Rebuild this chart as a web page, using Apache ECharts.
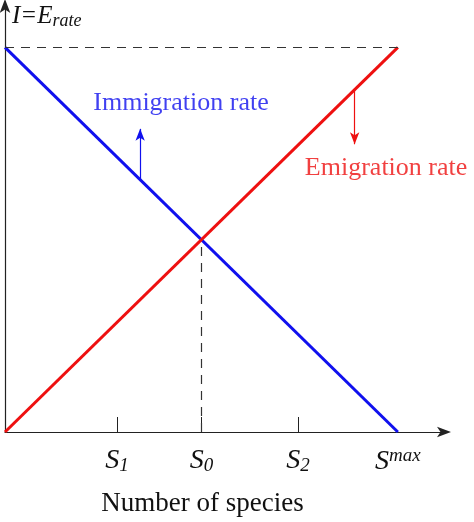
<!DOCTYPE html>
<html><head><meta charset="utf-8">
<script src="https://cdn.jsdelivr.net/npm/echarts@6/dist/echarts.min.js"></script>
<style>html,body{margin:0;padding:0;background:#fff}#c{width:474px;height:522px}</style>
</head><body><div id="c"></div>
<script>
const immigration = [[0,10],[10,0]];
const emigration = [[0,0],[10,10]];
const tickValues = [2.85, 5, 7.46];
const tickLabels = {2.85:'{s|S}{sub|1}', 5:'{s|S}{sub|0}', 7.46:'{s|S}{sub|2}', 10:'{s|S}{sup|max}'};
const equilibrium = [5,5];
const immArrow = [[3.44,6.56],[3.44,7.88]];
const emiArrow = [[8.9,8.9],[8.9,7.48]];
const F = '"Liberation Serif", "DejaVu Serif", serif';
const chart = echarts.init(document.getElementById('c'));
chart.setOption({
  animation:false,
  grid:{left:5,right:29,top:5,bottom:78},
  xAxis:{type:'value',min:0,max:11.2,splitLine:{show:false},
    axisLine:{lineStyle:{color:'#222',width:1.2},symbol:['none','arrow'],symbolSize:[8,14],symbolOffset:[0,6]},
    axisTick:{show:true,inside:true,length:15,customValues:tickValues,lineStyle:{color:'#222'}},
    axisLabel:{customValues:[2.85,5,7.46,10],margin:14,formatter:v=>tickLabels[v]||'',
      rich:{s:{fontFamily:F,fontStyle:'italic',fontSize:28,color:'#111'},
            sub:{fontFamily:F,fontStyle:'italic',fontSize:19,color:'#111',verticalAlign:'bottom',padding:[10,0,0,0]},
            sup:{fontFamily:F,fontStyle:'italic',fontSize:19,color:'#111',verticalAlign:'top',padding:[0,0,12,0]}}},
    name:'Number of species',nameLocation:'middle',nameGap:58,nameTextStyle:{fontFamily:F,fontSize:27,color:'#111',padding:[0,0,0,-45]}},
  yAxis:{type:'value',min:0,max:11.1,splitLine:{show:false},
    axisLine:{show:true,lineStyle:{color:'#222',width:1.2},symbol:['none','arrow'],symbolSize:[8,14],symbolOffset:[0,6]},
    axisTick:{show:false},axisLabel:{show:false}},
  graphic:[{type:'text',left:12,top:4,style:{rich:{a:{fontFamily:F,fontStyle:'italic',fontSize:25,fill:'#111'},b:{fontFamily:F,fontStyle:'italic',fontSize:18,fill:'#111',verticalAlign:'bottom',padding:[10,0,0,0]}},text:'{a|I=E}{b|rate}'}}],
  series:[
    {type:'line',data:immigration,symbol:'none',lineStyle:{color:'#1010ee',width:3},z:3,
      markLine:{silent:true,symbol:['none','arrow'],symbolSize:[7,12],lineStyle:{color:'#1010ee',width:1.2,type:'solid'},label:{show:false},
        data:[[{coord:immArrow[0]},{coord:immArrow[1]}]]}},
    {type:'line',data:emigration,symbol:'none',lineStyle:{color:'#ee1010',width:3},z:3,
      markLine:{silent:true,symbol:['none','arrow'],symbolSize:[7,12],lineStyle:{color:'#ee1010',width:1.2,type:'solid'},label:{show:false},
        data:[[{coord:emiArrow[0]},{coord:emiArrow[1]}]]}},
    {type:'line',data:[],markLine:{silent:true,symbol:'none',label:{show:false},lineStyle:{color:'#333',width:1.2,type:[9,7]},
      data:[[{coord:[0,10]},{coord:[10,10]}],[{coord:[equilibrium[0],0]},{coord:equilibrium}]]}},
    {type:'scatter',data:[[4.48,8.56]],symbolSize:0,label:{show:true,formatter:'Immigration rate',color:'#1010ee',fontFamily:F,fontSize:26}},
    {type:'scatter',data:[[9.7,6.85]],symbolSize:0,label:{show:true,formatter:'Emigration rate',color:'#ee1010',fontFamily:F,fontSize:26}}
  ]
});
</script></body></html>
